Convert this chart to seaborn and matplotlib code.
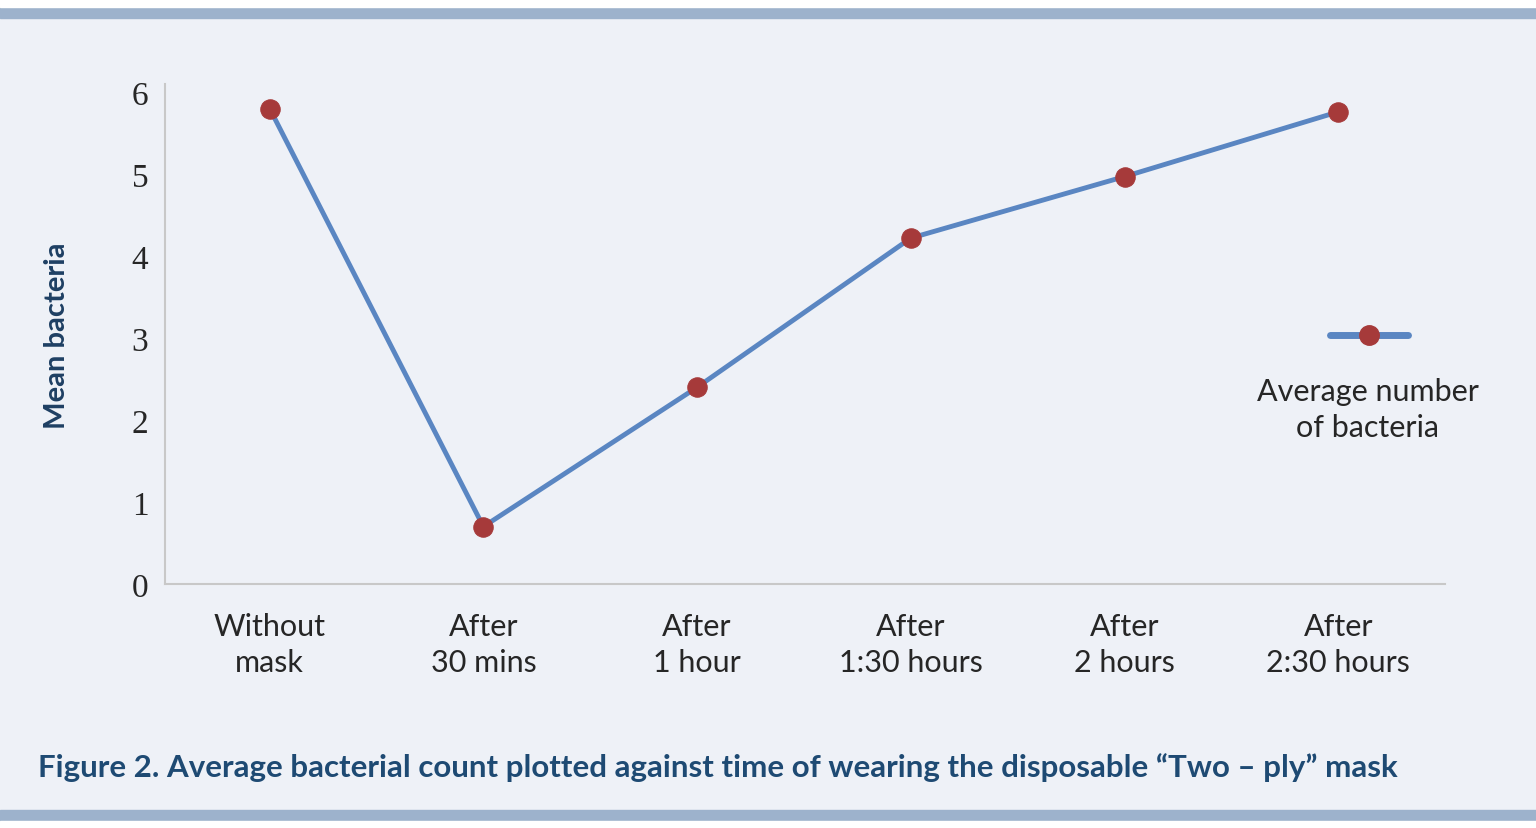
import matplotlib
matplotlib.use("Agg")
import matplotlib.pyplot as plt
import seaborn as sns
import pandas as pd

categories = ["Without\nmask", "After\n30 mins", "After\n1 hour", "After\n1:30 hours", "After\n2 hours", "After\n2:30 hours"]
values = [5.8, 0.7, 2.4, 4.22, 4.97, 5.76]
yticks = [0, 1, 2, 3, 4, 5, 6]

sns.set_style("white")
bg = "#eef1f7"
fig = plt.figure(figsize=(15.36, 8.29), dpi=100, facecolor=bg)
ax = fig.add_axes([0.1074, 0.2943, 0.8334, 0.6032], facecolor=bg)

df = pd.DataFrame({"x": range(len(categories)), "y": values})
sns.lineplot(data=df, x="x", y="y", ax=ax, color="#5a86c2", lw=3.5,
             marker="o", markersize=14, markerfacecolor="#a63a3a",
             markeredgecolor="#a63a3a", zorder=3)

ax.set_xlim(-0.49, 5.5)
ax.set_ylim(0, 6.1)
ax.set_yticks(yticks)
ax.set_yticklabels([str(t) for t in yticks], family="Liberation Serif", fontsize=24)
ax.set_xticks(range(len(categories)))
ax.set_xticklabels(categories, family="Lato", fontsize=22, linespacing=1.35)
ax.tick_params(axis="x", pad=20, length=0)
ax.tick_params(axis="y", pad=12, length=0)
for s in ["top", "right"]:
    ax.spines[s].set_visible(False)
for s in ["left", "bottom"]:
    ax.spines[s].set_color("#c8c8c8")
    ax.spines[s].set_linewidth(1.5)
ax.set_xlabel("")
ax.set_ylabel("")

fig.text(0.037, 0.595, "Mean bacteria", rotation=90, ha="center", va="center",
         family="Lato", fontweight="bold", fontsize=21, color="#1e3f63")

# legend
fig.add_artist(plt.Line2D([1330/1536, 1408/1536], [1-336/829]*2, color="#5a86c2", lw=5))
fig.add_artist(plt.Line2D([1369/1536], [1-336/829], marker="o", markersize=14,
                          color="#a63a3a", lw=0))
fig.text(1368/1536, 1-410/829, "Average number\nof bacteria", ha="center", va="center",
         family="Lato", fontsize=22, linespacing=1.35)

fig.text(38/1536, 1-768/829, "Figure 2. Average bacterial count plotted against time of wearing the disposable \u201cTwo \u2013 ply\u201d mask",
         ha="left", va="center", family="Lato", fontweight="bold", fontsize=22.5, color="#1e4a73")

band = "#9db2cc"
fig.add_artist(plt.Rectangle((0, 1-19/829), 1, 11/829, transform=fig.transFigure, color=band))
fig.add_artist(plt.Rectangle((0, 1-822/829), 1, 11/829, transform=fig.transFigure, color=band))
fig.add_artist(plt.Rectangle((0, 1-8/829), 1, 8/829, transform=fig.transFigure, color="white"))
fig.add_artist(plt.Rectangle((0, 0), 1, 7/829, transform=fig.transFigure, color="white"))

fig.savefig("out.png", dpi=100, facecolor=bg)
